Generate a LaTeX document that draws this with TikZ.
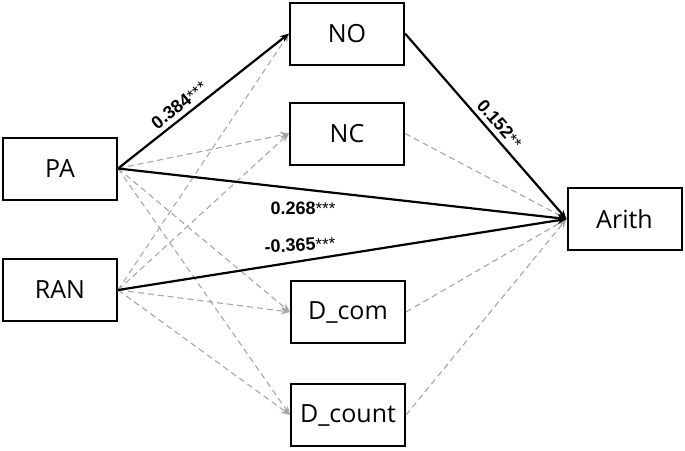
\documentclass[tikz,border=0pt]{standalone}
\usepackage{fontspec}
\setmainfont{Open Sans}
\newfontfamily\lblfont{Liberation Sans}
\usetikzlibrary{arrows.meta}
\tikzset{
  box/.style={draw=black,line width=2pt,minimum width=114pt,minimum height=62pt,inner sep=0pt,font=\fontsize{25}{28}\selectfont},
  solidarr/.style={draw=black,line width=2.2pt,-{Stealth[length=9pt,width=7pt]}},
  dasharr/.style={draw=gray!70,line width=1.1pt,dash pattern=on 6pt off 4pt,-{Stealth[length=9pt,width=7pt,fill=gray!70]}},
  lbl/.style={font=\lblfont\bfseries\fontsize{18}{20}\selectfont,inner sep=1.5pt},
}
\newcommand{\stars}[1]{{\mdseries\fontsize{17}{17}\selectfont #1}}
\begin{document}
\begin{tikzpicture}[x=1pt,y=-1pt]
\useasboundingbox (0,0) rectangle (685,450);
\node[box] (PA) at (60,168.5) {PA};
\node[box] (RAN) at (60,290) {RAN};
\node[box] (NO) at (347,33.5) {NO};
\node[box] (NC) at (347,133.5) {NC};
\node[box] (DC) at (348,312) {D\_com};
\node[box] (DN) at (348,415) {D\_count};
\node[box] (AR) at (624.5,219) {Arith};
% dashed paths
\draw[dasharr] (PA.east) -- (NC.west);
\draw[dasharr] (PA.east) -- (DC.west);
\draw[dasharr] (PA.east) -- (DN.west);
\draw[dasharr] (RAN.east) -- (NO.west);
\draw[dasharr] (RAN.east) -- (NC.west);
\draw[dasharr] (RAN.east) -- (DC.west);
\draw[dasharr] (RAN.east) -- (DN.west);
\draw[dasharr] (NC.east) -- (AR.west);
\draw[dasharr] (DC.east) -- (AR.west);
\draw[dasharr] (DN.east) -- (AR.west);
% solid paths
\draw[solidarr] (PA.east) -- node[lbl,sloped,above=3pt,pos=0.4] {0.384\stars{***}} (NO.west);
\draw[solidarr] (NO.east) -- node[lbl,sloped,above=3pt,pos=0.53] {0.152\stars{**}} (AR.west);
\draw[solidarr] (PA.east) -- (AR.west);
\draw[solidarr] (RAN.east) -- (AR.west);
\node[lbl] (L1) at (303,208) {0.268\stars{***}};
\node[lbl,rotate=3] (L2) at (300,245) {-0.365\stars{***}};
\end{tikzpicture}
\end{document}
